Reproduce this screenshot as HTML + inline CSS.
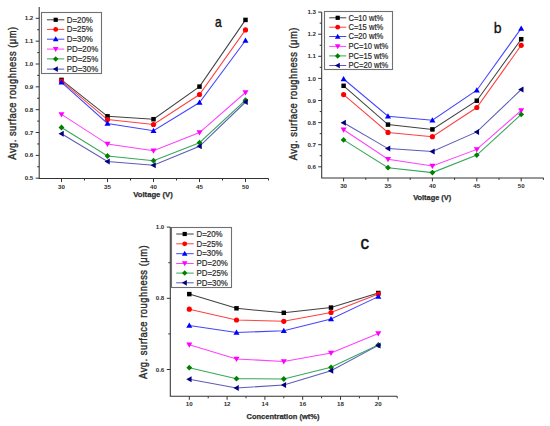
<!DOCTYPE html>
<html><head><meta charset="utf-8"><style>
html,body{margin:0;padding:0;background:#fff;}
body{width:550px;height:426px;overflow:hidden;}
svg{display:block;font-family:"Liberation Sans", sans-serif;}
</style></head><body>
<svg width="550" height="426" viewBox="0 0 550 426">
<rect width="550" height="426" fill="#fff"/>
<path d="M39.2 7V178.5H268.5" fill="none" stroke="#333333" stroke-width="1.05"/>
<path d="M35.7 178.2H39.2" stroke="#333333" stroke-width="1"/>
<text x="33.30" y="180.30" font-size="6.2" font-weight="bold" text-anchor="end" fill="#2e2e2e" >0.5</text>
<path d="M35.7 155.36H39.2" stroke="#333333" stroke-width="1"/>
<text x="33.30" y="157.46" font-size="6.2" font-weight="bold" text-anchor="end" fill="#2e2e2e" >0.6</text>
<path d="M35.7 132.52H39.2" stroke="#333333" stroke-width="1"/>
<text x="33.30" y="134.62" font-size="6.2" font-weight="bold" text-anchor="end" fill="#2e2e2e" >0.7</text>
<path d="M35.7 109.68H39.2" stroke="#333333" stroke-width="1"/>
<text x="33.30" y="111.78" font-size="6.2" font-weight="bold" text-anchor="end" fill="#2e2e2e" >0.8</text>
<path d="M35.7 86.84H39.2" stroke="#333333" stroke-width="1"/>
<text x="33.30" y="88.94" font-size="6.2" font-weight="bold" text-anchor="end" fill="#2e2e2e" >0.9</text>
<path d="M35.7 64.0H39.2" stroke="#333333" stroke-width="1"/>
<text x="33.30" y="66.10" font-size="6.2" font-weight="bold" text-anchor="end" fill="#2e2e2e" >1.0</text>
<path d="M35.7 41.16H39.2" stroke="#333333" stroke-width="1"/>
<text x="33.30" y="43.26" font-size="6.2" font-weight="bold" text-anchor="end" fill="#2e2e2e" >1.1</text>
<path d="M35.7 18.32H39.2" stroke="#333333" stroke-width="1"/>
<text x="33.30" y="20.42" font-size="6.2" font-weight="bold" text-anchor="end" fill="#2e2e2e" >1.2</text>
<path d="M37.2 166.78H39.2" stroke="#333333" stroke-width="1"/>
<path d="M37.2 143.94H39.2" stroke="#333333" stroke-width="1"/>
<path d="M37.2 121.1H39.2" stroke="#333333" stroke-width="1"/>
<path d="M37.2 98.26H39.2" stroke="#333333" stroke-width="1"/>
<path d="M37.2 75.42H39.2" stroke="#333333" stroke-width="1"/>
<path d="M37.2 52.58H39.2" stroke="#333333" stroke-width="1"/>
<path d="M37.2 29.74H39.2" stroke="#333333" stroke-width="1"/>
<path d="M61.5 178.5V182.0" stroke="#333333" stroke-width="1"/>
<text x="61.50" y="188.50" font-size="6.2" font-weight="bold" text-anchor="middle" fill="#2e2e2e" >30</text>
<path d="M107.5 178.5V182.0" stroke="#333333" stroke-width="1"/>
<text x="107.50" y="188.50" font-size="6.2" font-weight="bold" text-anchor="middle" fill="#2e2e2e" >35</text>
<path d="M153.5 178.5V182.0" stroke="#333333" stroke-width="1"/>
<text x="153.50" y="188.50" font-size="6.2" font-weight="bold" text-anchor="middle" fill="#2e2e2e" >40</text>
<path d="M199.5 178.5V182.0" stroke="#333333" stroke-width="1"/>
<text x="199.50" y="188.50" font-size="6.2" font-weight="bold" text-anchor="middle" fill="#2e2e2e" >45</text>
<path d="M245.5 178.5V182.0" stroke="#333333" stroke-width="1"/>
<text x="245.50" y="188.50" font-size="6.2" font-weight="bold" text-anchor="middle" fill="#2e2e2e" >50</text>
<path d="M84.5 178.5V180.5" stroke="#333333" stroke-width="1"/>
<path d="M130.5 178.5V180.5" stroke="#333333" stroke-width="1"/>
<path d="M176.5 178.5V180.5" stroke="#333333" stroke-width="1"/>
<path d="M222.5 178.5V180.5" stroke="#333333" stroke-width="1"/>
<path d="M268.5 178.5V180.5" stroke="#333333" stroke-width="1"/>
<text x="153.00" y="196.80" font-size="7.7" font-weight="bold" text-anchor="middle" fill="#2e2e2e" stroke="#2e2e2e" stroke-width="0.25">Voltage (V)</text>
<text x="0" y="0" font-size="9.33" letter-spacing="0.5" text-anchor="middle" fill="#2e2e2e" stroke="#2e2e2e" stroke-width="0.35" transform="translate(15.6 93.05) rotate(-90) scale(1 1.1)">Avg. surface roughness (μm)</text>
<polyline points="61.50,79.90 107.50,116.30 153.50,119.20 199.50,86.60 245.50,19.90" fill="none" stroke="#404040" stroke-width="1.05"/>
<polyline points="61.50,81.20 107.50,119.60 153.50,124.50 199.50,94.50 245.50,29.90" fill="none" stroke="#ff4040" stroke-width="1.05"/>
<polyline points="61.50,82.30 107.50,123.40 153.50,130.70 199.50,102.50 245.50,40.50" fill="none" stroke="#4545ff" stroke-width="1.05"/>
<polyline points="61.50,114.40 107.50,144.10 153.50,150.80 199.50,132.60 245.50,92.50" fill="none" stroke="#ff40ff" stroke-width="1.05"/>
<polyline points="61.50,127.50 107.50,156.00 153.50,160.70 199.50,142.70 245.50,100.20" fill="none" stroke="#35a858" stroke-width="1.05"/>
<polyline points="61.50,133.80 107.50,161.40 153.50,165.20 199.50,146.30 245.50,102.00" fill="none" stroke="#5c5cb8" stroke-width="1.05"/>
<rect x="59.26" y="77.66" width="4.48" height="4.48" fill="#000000"/>
<rect x="105.26" y="114.06" width="4.48" height="4.48" fill="#000000"/>
<rect x="151.26" y="116.96" width="4.48" height="4.48" fill="#000000"/>
<rect x="197.26" y="84.36" width="4.48" height="4.48" fill="#000000"/>
<rect x="243.26" y="17.66" width="4.48" height="4.48" fill="#000000"/>
<circle cx="61.50" cy="81.20" r="2.58" fill="#ff0000"/>
<circle cx="107.50" cy="119.60" r="2.58" fill="#ff0000"/>
<circle cx="153.50" cy="124.50" r="2.58" fill="#ff0000"/>
<circle cx="199.50" cy="94.50" r="2.58" fill="#ff0000"/>
<circle cx="245.50" cy="29.90" r="2.58" fill="#ff0000"/>
<path d="M61.50 79.28L64.52 84.57L58.48 84.57Z" fill="#0000ff"/>
<path d="M107.50 120.38L110.52 125.67L104.48 125.67Z" fill="#0000ff"/>
<path d="M153.50 127.68L156.52 132.97L150.48 132.97Z" fill="#0000ff"/>
<path d="M199.50 99.48L202.52 104.77L196.48 104.77Z" fill="#0000ff"/>
<path d="M245.50 37.48L248.52 42.77L242.48 42.77Z" fill="#0000ff"/>
<path d="M61.50 117.42L64.52 112.13L58.48 112.13Z" fill="#ff00ff"/>
<path d="M107.50 147.12L110.52 141.83L104.48 141.83Z" fill="#ff00ff"/>
<path d="M153.50 153.82L156.52 148.53L150.48 148.53Z" fill="#ff00ff"/>
<path d="M199.50 135.62L202.52 130.33L196.48 130.33Z" fill="#ff00ff"/>
<path d="M245.50 95.52L248.52 90.23L242.48 90.23Z" fill="#ff00ff"/>
<path d="M61.50 124.59L64.41 127.50L61.50 130.41L58.59 127.50Z" fill="#008000"/>
<path d="M107.50 153.09L110.41 156.00L107.50 158.91L104.59 156.00Z" fill="#008000"/>
<path d="M153.50 157.79L156.41 160.70L153.50 163.61L150.59 160.70Z" fill="#008000"/>
<path d="M199.50 139.79L202.41 142.70L199.50 145.61L196.59 142.70Z" fill="#008000"/>
<path d="M245.50 97.29L248.41 100.20L245.50 103.11L242.59 100.20Z" fill="#008000"/>
<path d="M58.48 133.80L63.77 130.78L63.77 136.82Z" fill="#000080"/>
<path d="M104.48 161.40L109.77 158.38L109.77 164.42Z" fill="#000080"/>
<path d="M150.48 165.20L155.77 162.18L155.77 168.22Z" fill="#000080"/>
<path d="M196.48 146.30L201.77 143.28L201.77 149.32Z" fill="#000080"/>
<path d="M242.48 102.00L247.77 98.98L247.77 105.02Z" fill="#000080"/>
<rect x="41.5" y="12.5" width="60.0" height="61.0" fill="#fff" stroke="#707070" stroke-width="1.1"/>
<path d="M47 19.8H64.3" stroke="#404040" stroke-width="1"/>
<rect x="53.60" y="17.70" width="4.20" height="4.20" fill="#000000"/>
<text x="0" y="0" font-size="8.5" fill="#2a2a2a" stroke="#2a2a2a" stroke-width="0.2" transform="translate(66.8 22.50) scale(0.93 1)">D=20%</text>
<path d="M47 29.4H64.3" stroke="#ff4040" stroke-width="1"/>
<circle cx="55.70" cy="29.40" r="2.42" fill="#ff0000"/>
<text x="0" y="0" font-size="8.5" fill="#2a2a2a" stroke="#2a2a2a" stroke-width="0.2" transform="translate(66.8 32.10) scale(0.93 1)">D=25%</text>
<path d="M47 39.2H64.3" stroke="#4545ff" stroke-width="1"/>
<path d="M55.70 36.37L58.54 41.33L52.87 41.33Z" fill="#0000ff"/>
<text x="0" y="0" font-size="8.5" fill="#2a2a2a" stroke="#2a2a2a" stroke-width="0.2" transform="translate(66.8 41.90) scale(0.93 1)">D=30%</text>
<path d="M47 49.1H64.3" stroke="#ff40ff" stroke-width="1"/>
<path d="M55.70 51.94L58.54 46.97L52.87 46.97Z" fill="#ff00ff"/>
<text x="0" y="0" font-size="8.5" fill="#2a2a2a" stroke="#2a2a2a" stroke-width="0.2" transform="translate(66.8 51.80) scale(0.93 1)">PD=20%</text>
<path d="M47 58.9H64.3" stroke="#35a858" stroke-width="1"/>
<path d="M55.70 56.17L58.43 58.90L55.70 61.63L52.97 58.90Z" fill="#008000"/>
<text x="0" y="0" font-size="8.5" fill="#2a2a2a" stroke="#2a2a2a" stroke-width="0.2" transform="translate(66.8 61.60) scale(0.93 1)">PD=25%</text>
<path d="M47 69.1H64.3" stroke="#5c5cb8" stroke-width="1"/>
<path d="M52.87 69.10L57.83 66.27L57.83 71.93Z" fill="#000080"/>
<text x="0" y="0" font-size="8.5" fill="#2a2a2a" stroke="#2a2a2a" stroke-width="0.2" transform="translate(66.8 71.80) scale(0.93 1)">PD=30%</text>
<text x="0" y="0" font-size="14" fill="#111" stroke="#111" stroke-width="0.4" transform="translate(214.9 26.8) scale(0.86 1)">a</text>
<path d="M321.7 12V177.9H543.5" fill="none" stroke="#333333" stroke-width="1.05"/>
<path d="M318.2 166.8H321.7" stroke="#333333" stroke-width="1"/>
<text x="316.00" y="168.90" font-size="6.2" font-weight="bold" text-anchor="end" fill="#2e2e2e" >0.6</text>
<path d="M318.2 144.7H321.7" stroke="#333333" stroke-width="1"/>
<text x="316.00" y="146.80" font-size="6.2" font-weight="bold" text-anchor="end" fill="#2e2e2e" >0.7</text>
<path d="M318.2 122.6H321.7" stroke="#333333" stroke-width="1"/>
<text x="316.00" y="124.70" font-size="6.2" font-weight="bold" text-anchor="end" fill="#2e2e2e" >0.8</text>
<path d="M318.2 100.5H321.7" stroke="#333333" stroke-width="1"/>
<text x="316.00" y="102.60" font-size="6.2" font-weight="bold" text-anchor="end" fill="#2e2e2e" >0.9</text>
<path d="M318.2 78.4H321.7" stroke="#333333" stroke-width="1"/>
<text x="316.00" y="80.50" font-size="6.2" font-weight="bold" text-anchor="end" fill="#2e2e2e" >1.0</text>
<path d="M318.2 56.3H321.7" stroke="#333333" stroke-width="1"/>
<text x="316.00" y="58.40" font-size="6.2" font-weight="bold" text-anchor="end" fill="#2e2e2e" >1.1</text>
<path d="M318.2 34.2H321.7" stroke="#333333" stroke-width="1"/>
<text x="316.00" y="36.30" font-size="6.2" font-weight="bold" text-anchor="end" fill="#2e2e2e" >1.2</text>
<path d="M318.2 12.1H321.7" stroke="#333333" stroke-width="1"/>
<text x="316.00" y="14.20" font-size="6.2" font-weight="bold" text-anchor="end" fill="#2e2e2e" >1.3</text>
<path d="M319.7 155.75H321.7" stroke="#333333" stroke-width="1"/>
<path d="M319.7 133.65H321.7" stroke="#333333" stroke-width="1"/>
<path d="M319.7 111.55H321.7" stroke="#333333" stroke-width="1"/>
<path d="M319.7 89.45H321.7" stroke="#333333" stroke-width="1"/>
<path d="M319.7 67.35H321.7" stroke="#333333" stroke-width="1"/>
<path d="M319.7 45.25H321.7" stroke="#333333" stroke-width="1"/>
<path d="M319.7 23.15H321.7" stroke="#333333" stroke-width="1"/>
<path d="M343.6 177.9V181.4" stroke="#333333" stroke-width="1"/>
<text x="343.60" y="188.00" font-size="6.2" font-weight="bold" text-anchor="middle" fill="#2e2e2e" >30</text>
<path d="M388.0 177.9V181.4" stroke="#333333" stroke-width="1"/>
<text x="388.00" y="188.00" font-size="6.2" font-weight="bold" text-anchor="middle" fill="#2e2e2e" >35</text>
<path d="M432.40000000000003 177.9V181.4" stroke="#333333" stroke-width="1"/>
<text x="432.40" y="188.00" font-size="6.2" font-weight="bold" text-anchor="middle" fill="#2e2e2e" >40</text>
<path d="M476.8 177.9V181.4" stroke="#333333" stroke-width="1"/>
<text x="476.80" y="188.00" font-size="6.2" font-weight="bold" text-anchor="middle" fill="#2e2e2e" >45</text>
<path d="M521.2 177.9V181.4" stroke="#333333" stroke-width="1"/>
<text x="521.20" y="188.00" font-size="6.2" font-weight="bold" text-anchor="middle" fill="#2e2e2e" >50</text>
<path d="M365.79999999999995 177.9V179.9" stroke="#333333" stroke-width="1"/>
<path d="M410.2 177.9V179.9" stroke="#333333" stroke-width="1"/>
<path d="M454.59999999999997 177.9V179.9" stroke="#333333" stroke-width="1"/>
<path d="M499.0 177.9V179.9" stroke="#333333" stroke-width="1"/>
<path d="M543.4 177.9V179.9" stroke="#333333" stroke-width="1"/>
<text x="432.20" y="200.00" font-size="7.4" font-weight="bold" text-anchor="middle" fill="#2e2e2e" stroke="#2e2e2e" stroke-width="0.25">Voltage (V)</text>
<text x="0" y="0" font-size="9.33" letter-spacing="0.5" text-anchor="middle" fill="#2e2e2e" stroke="#2e2e2e" stroke-width="0.35" transform="translate(297.2 93.75) rotate(-90) scale(1 1.1)">Avg. surface roughness (μm)</text>
<polyline points="343.60,85.80 388.00,124.60 432.40,129.40 476.80,100.70 521.20,39.20" fill="none" stroke="#404040" stroke-width="1.05"/>
<polyline points="343.60,94.60 388.00,132.40 432.40,136.70 476.80,107.50 521.20,45.30" fill="none" stroke="#ff4040" stroke-width="1.05"/>
<polyline points="343.60,79.00 388.00,116.20 432.40,120.20 476.80,90.20 521.20,28.40" fill="none" stroke="#4545ff" stroke-width="1.05"/>
<polyline points="343.60,129.70 388.00,159.20 432.40,166.00 476.80,149.40 521.20,110.50" fill="none" stroke="#ff40ff" stroke-width="1.05"/>
<polyline points="343.60,139.90 388.00,167.70 432.40,172.60 476.80,155.10 521.20,114.40" fill="none" stroke="#35a858" stroke-width="1.05"/>
<polyline points="343.60,122.70 388.00,148.60 432.40,151.50 476.80,131.90 521.20,89.50" fill="none" stroke="#5c5cb8" stroke-width="1.05"/>
<rect x="341.36" y="83.56" width="4.48" height="4.48" fill="#000000"/>
<rect x="385.76" y="122.36" width="4.48" height="4.48" fill="#000000"/>
<rect x="430.16" y="127.16" width="4.48" height="4.48" fill="#000000"/>
<rect x="474.56" y="98.46" width="4.48" height="4.48" fill="#000000"/>
<rect x="518.96" y="36.96" width="4.48" height="4.48" fill="#000000"/>
<circle cx="343.60" cy="94.60" r="2.58" fill="#ff0000"/>
<circle cx="388.00" cy="132.40" r="2.58" fill="#ff0000"/>
<circle cx="432.40" cy="136.70" r="2.58" fill="#ff0000"/>
<circle cx="476.80" cy="107.50" r="2.58" fill="#ff0000"/>
<circle cx="521.20" cy="45.30" r="2.58" fill="#ff0000"/>
<path d="M343.60 75.98L346.62 81.27L340.58 81.27Z" fill="#0000ff"/>
<path d="M388.00 113.18L391.02 118.47L384.98 118.47Z" fill="#0000ff"/>
<path d="M432.40 117.18L435.42 122.47L429.38 122.47Z" fill="#0000ff"/>
<path d="M476.80 87.18L479.82 92.47L473.78 92.47Z" fill="#0000ff"/>
<path d="M521.20 25.38L524.22 30.67L518.18 30.67Z" fill="#0000ff"/>
<path d="M343.60 132.72L346.62 127.43L340.58 127.43Z" fill="#ff00ff"/>
<path d="M388.00 162.22L391.02 156.93L384.98 156.93Z" fill="#ff00ff"/>
<path d="M432.40 169.02L435.42 163.73L429.38 163.73Z" fill="#ff00ff"/>
<path d="M476.80 152.42L479.82 147.13L473.78 147.13Z" fill="#ff00ff"/>
<path d="M521.20 113.52L524.22 108.23L518.18 108.23Z" fill="#ff00ff"/>
<path d="M343.60 136.99L346.51 139.90L343.60 142.81L340.69 139.90Z" fill="#008000"/>
<path d="M388.00 164.79L390.91 167.70L388.00 170.61L385.09 167.70Z" fill="#008000"/>
<path d="M432.40 169.69L435.31 172.60L432.40 175.51L429.49 172.60Z" fill="#008000"/>
<path d="M476.80 152.19L479.71 155.10L476.80 158.01L473.89 155.10Z" fill="#008000"/>
<path d="M521.20 111.49L524.11 114.40L521.20 117.31L518.29 114.40Z" fill="#008000"/>
<path d="M340.58 122.70L345.87 119.68L345.87 125.72Z" fill="#000080"/>
<path d="M384.98 148.60L390.27 145.58L390.27 151.62Z" fill="#000080"/>
<path d="M429.38 151.50L434.67 148.48L434.67 154.52Z" fill="#000080"/>
<path d="M473.78 131.90L479.07 128.88L479.07 134.92Z" fill="#000080"/>
<path d="M518.18 89.50L523.47 86.48L523.47 92.52Z" fill="#000080"/>
<rect x="324.5" y="11.5" width="68.0" height="58.0" fill="#fff" stroke="#707070" stroke-width="1.1"/>
<path d="M329.2 17.8H346.3" stroke="#404040" stroke-width="1"/>
<rect x="335.60" y="15.70" width="4.20" height="4.20" fill="#000000"/>
<text x="0" y="0" font-size="8.2" fill="#2a2a2a" stroke="#2a2a2a" stroke-width="0.2" transform="translate(348.4 20.50) scale(0.93 1)">C=10 wt%</text>
<path d="M329.2 27.2H346.3" stroke="#ff4040" stroke-width="1"/>
<circle cx="337.70" cy="27.20" r="2.42" fill="#ff0000"/>
<text x="0" y="0" font-size="8.2" fill="#2a2a2a" stroke="#2a2a2a" stroke-width="0.2" transform="translate(348.4 29.90) scale(0.93 1)">C=15 wt%</text>
<path d="M329.2 36.5H346.3" stroke="#4545ff" stroke-width="1"/>
<path d="M337.70 33.66L340.53 38.63L334.87 38.63Z" fill="#0000ff"/>
<text x="0" y="0" font-size="8.2" fill="#2a2a2a" stroke="#2a2a2a" stroke-width="0.2" transform="translate(348.4 39.20) scale(0.93 1)">C=20 wt%</text>
<path d="M329.2 46.4H346.3" stroke="#ff40ff" stroke-width="1"/>
<path d="M337.70 49.23L340.53 44.27L334.87 44.27Z" fill="#ff00ff"/>
<text x="0" y="0" font-size="8.2" fill="#2a2a2a" stroke="#2a2a2a" stroke-width="0.2" transform="translate(348.4 49.10) scale(0.93 1)">PC=10 wt%</text>
<path d="M329.2 55.9H346.3" stroke="#35a858" stroke-width="1"/>
<path d="M337.70 53.17L340.43 55.90L337.70 58.63L334.97 55.90Z" fill="#008000"/>
<text x="0" y="0" font-size="8.2" fill="#2a2a2a" stroke="#2a2a2a" stroke-width="0.2" transform="translate(348.4 58.60) scale(0.93 1)">PC=15 wt%</text>
<path d="M329.2 65.5H346.3" stroke="#5c5cb8" stroke-width="1"/>
<path d="M334.87 65.50L339.83 62.66L339.83 68.33Z" fill="#000080"/>
<text x="0" y="0" font-size="8.2" fill="#2a2a2a" stroke="#2a2a2a" stroke-width="0.2" transform="translate(348.4 68.20) scale(0.93 1)">PC=20 wt%</text>
<text x="0" y="0" font-size="14.8" fill="#111" stroke="#111" stroke-width="0.3" transform="translate(493.7 33) scale(0.95 1)">b</text>
<path d="M170.3 226.9V396.3H397.2" fill="none" stroke="#333333" stroke-width="1.05"/>
<path d="M166.8 369.5H170.3" stroke="#333333" stroke-width="1"/>
<text x="164.30" y="371.60" font-size="6.2" font-weight="bold" text-anchor="end" fill="#2e2e2e" >0.6</text>
<path d="M166.8 298.3H170.3" stroke="#333333" stroke-width="1"/>
<text x="164.30" y="300.40" font-size="6.2" font-weight="bold" text-anchor="end" fill="#2e2e2e" >0.8</text>
<path d="M166.8 227.1H170.3" stroke="#333333" stroke-width="1"/>
<text x="164.30" y="229.20" font-size="6.2" font-weight="bold" text-anchor="end" fill="#2e2e2e" >1.0</text>
<path d="M168.3 333.9H170.3" stroke="#333333" stroke-width="1"/>
<path d="M168.3 262.7H170.3" stroke="#333333" stroke-width="1"/>
<path d="M189.3 396.3V399.8" stroke="#333333" stroke-width="1"/>
<text x="189.30" y="406.20" font-size="6.2" font-weight="bold" text-anchor="middle" fill="#2e2e2e" >10</text>
<path d="M227.10000000000002 396.3V399.8" stroke="#333333" stroke-width="1"/>
<text x="227.10" y="406.20" font-size="6.2" font-weight="bold" text-anchor="middle" fill="#2e2e2e" >12</text>
<path d="M264.9 396.3V399.8" stroke="#333333" stroke-width="1"/>
<text x="264.90" y="406.20" font-size="6.2" font-weight="bold" text-anchor="middle" fill="#2e2e2e" >14</text>
<path d="M302.7 396.3V399.8" stroke="#333333" stroke-width="1"/>
<text x="302.70" y="406.20" font-size="6.2" font-weight="bold" text-anchor="middle" fill="#2e2e2e" >16</text>
<path d="M340.5 396.3V399.8" stroke="#333333" stroke-width="1"/>
<text x="340.50" y="406.20" font-size="6.2" font-weight="bold" text-anchor="middle" fill="#2e2e2e" >18</text>
<path d="M378.3 396.3V399.8" stroke="#333333" stroke-width="1"/>
<text x="378.30" y="406.20" font-size="6.2" font-weight="bold" text-anchor="middle" fill="#2e2e2e" >20</text>
<path d="M208.2 396.3V398.3" stroke="#333333" stroke-width="1"/>
<path d="M246.0 396.3V398.3" stroke="#333333" stroke-width="1"/>
<path d="M283.8 396.3V398.3" stroke="#333333" stroke-width="1"/>
<path d="M321.6 396.3V398.3" stroke="#333333" stroke-width="1"/>
<path d="M359.4 396.3V398.3" stroke="#333333" stroke-width="1"/>
<path d="M397.2 396.3V398.3" stroke="#333333" stroke-width="1"/>
<text x="283.00" y="419.00" font-size="7.5" font-weight="bold" text-anchor="middle" fill="#2e2e2e" stroke="#2e2e2e" stroke-width="0.25">Concentration (wt%)</text>
<text x="0" y="0" font-size="9.40" letter-spacing="0.5" text-anchor="middle" fill="#2e2e2e" stroke="#2e2e2e" stroke-width="0.35" transform="translate(147.2 311.9) rotate(-90) scale(1 1.1)">Avg. surface roughness (μm)</text>
<polyline points="189.30,294.10 236.50,308.30 283.80,312.80 331.00,307.60 378.30,293.00" fill="none" stroke="#404040" stroke-width="1.05"/>
<polyline points="189.30,309.20 236.50,320.00 283.80,321.30 331.00,312.50 378.30,294.10" fill="none" stroke="#ff4040" stroke-width="1.05"/>
<polyline points="189.30,325.50 236.50,332.50 283.80,330.80 331.00,318.90 378.30,296.60" fill="none" stroke="#4545ff" stroke-width="1.05"/>
<polyline points="189.30,344.80 236.50,359.00 283.80,361.40 331.00,353.00 378.30,333.40" fill="none" stroke="#ff40ff" stroke-width="1.05"/>
<polyline points="189.30,367.70 236.50,378.70 283.80,379.00 331.00,367.30 378.30,345.00" fill="none" stroke="#35a858" stroke-width="1.05"/>
<polyline points="189.30,379.30 236.50,387.90 283.80,385.10 331.00,370.80 378.30,345.40" fill="none" stroke="#5c5cb8" stroke-width="1.05"/>
<rect x="187.06" y="291.86" width="4.48" height="4.48" fill="#000000"/>
<rect x="234.26" y="306.06" width="4.48" height="4.48" fill="#000000"/>
<rect x="281.56" y="310.56" width="4.48" height="4.48" fill="#000000"/>
<rect x="328.76" y="305.36" width="4.48" height="4.48" fill="#000000"/>
<rect x="376.06" y="290.76" width="4.48" height="4.48" fill="#000000"/>
<circle cx="189.30" cy="309.20" r="2.58" fill="#ff0000"/>
<circle cx="236.50" cy="320.00" r="2.58" fill="#ff0000"/>
<circle cx="283.80" cy="321.30" r="2.58" fill="#ff0000"/>
<circle cx="331.00" cy="312.50" r="2.58" fill="#ff0000"/>
<circle cx="378.30" cy="294.10" r="2.58" fill="#ff0000"/>
<path d="M189.30 322.48L192.32 327.77L186.28 327.77Z" fill="#0000ff"/>
<path d="M236.50 329.48L239.52 334.77L233.48 334.77Z" fill="#0000ff"/>
<path d="M283.80 327.78L286.82 333.07L280.78 333.07Z" fill="#0000ff"/>
<path d="M331.00 315.88L334.02 321.17L327.98 321.17Z" fill="#0000ff"/>
<path d="M378.30 293.58L381.32 298.87L375.28 298.87Z" fill="#0000ff"/>
<path d="M189.30 347.82L192.32 342.53L186.28 342.53Z" fill="#ff00ff"/>
<path d="M236.50 362.02L239.52 356.73L233.48 356.73Z" fill="#ff00ff"/>
<path d="M283.80 364.42L286.82 359.13L280.78 359.13Z" fill="#ff00ff"/>
<path d="M331.00 356.02L334.02 350.73L327.98 350.73Z" fill="#ff00ff"/>
<path d="M378.30 336.42L381.32 331.13L375.28 331.13Z" fill="#ff00ff"/>
<path d="M189.30 364.79L192.21 367.70L189.30 370.61L186.39 367.70Z" fill="#008000"/>
<path d="M236.50 375.79L239.41 378.70L236.50 381.61L233.59 378.70Z" fill="#008000"/>
<path d="M283.80 376.09L286.71 379.00L283.80 381.91L280.89 379.00Z" fill="#008000"/>
<path d="M331.00 364.39L333.91 367.30L331.00 370.21L328.09 367.30Z" fill="#008000"/>
<path d="M378.30 342.09L381.21 345.00L378.30 347.91L375.39 345.00Z" fill="#008000"/>
<path d="M186.28 379.30L191.57 376.28L191.57 382.32Z" fill="#000080"/>
<path d="M233.48 387.90L238.77 384.88L238.77 390.92Z" fill="#000080"/>
<path d="M280.78 385.10L286.07 382.08L286.07 388.12Z" fill="#000080"/>
<path d="M327.98 370.80L333.27 367.78L333.27 373.82Z" fill="#000080"/>
<path d="M375.28 345.40L380.57 342.38L380.57 348.42Z" fill="#000080"/>
<rect x="171.5" y="227.5" width="60.0" height="60.0" fill="#fff" stroke="#707070" stroke-width="1.1"/>
<path d="M176.2 234H193.7" stroke="#404040" stroke-width="1"/>
<rect x="182.60" y="231.90" width="4.20" height="4.20" fill="#000000"/>
<text x="0" y="0" font-size="8.5" fill="#2a2a2a" stroke="#2a2a2a" stroke-width="0.2" transform="translate(196.5 236.70) scale(0.93 1)">D=20%</text>
<path d="M176.2 243.8H193.7" stroke="#ff4040" stroke-width="1"/>
<circle cx="184.70" cy="243.80" r="2.42" fill="#ff0000"/>
<text x="0" y="0" font-size="8.5" fill="#2a2a2a" stroke="#2a2a2a" stroke-width="0.2" transform="translate(196.5 246.50) scale(0.93 1)">D=25%</text>
<path d="M176.2 253.7H193.7" stroke="#4545ff" stroke-width="1"/>
<path d="M184.70 250.86L187.53 255.83L181.86 255.83Z" fill="#0000ff"/>
<text x="0" y="0" font-size="8.5" fill="#2a2a2a" stroke="#2a2a2a" stroke-width="0.2" transform="translate(196.5 256.40) scale(0.93 1)">D=30%</text>
<path d="M176.2 263.5H193.7" stroke="#ff40ff" stroke-width="1"/>
<path d="M184.70 266.33L187.53 261.37L181.86 261.37Z" fill="#ff00ff"/>
<text x="0" y="0" font-size="8.5" fill="#2a2a2a" stroke="#2a2a2a" stroke-width="0.2" transform="translate(196.5 266.20) scale(0.93 1)">PD=20%</text>
<path d="M176.2 273.1H193.7" stroke="#35a858" stroke-width="1"/>
<path d="M184.70 270.37L187.43 273.10L184.70 275.83L181.97 273.10Z" fill="#008000"/>
<text x="0" y="0" font-size="8.5" fill="#2a2a2a" stroke="#2a2a2a" stroke-width="0.2" transform="translate(196.5 275.80) scale(0.93 1)">PD=25%</text>
<path d="M176.2 282.8H193.7" stroke="#5c5cb8" stroke-width="1"/>
<path d="M181.86 282.80L186.83 279.97L186.83 285.63Z" fill="#000080"/>
<text x="0" y="0" font-size="8.5" fill="#2a2a2a" stroke="#2a2a2a" stroke-width="0.2" transform="translate(196.5 285.50) scale(0.93 1)">PD=30%</text>
<text x="0" y="0" font-size="19" fill="#111" stroke="#111" stroke-width="0.5" transform="translate(360.6 249.2) scale(0.9 1)">c</text>
</svg>
</body></html>
